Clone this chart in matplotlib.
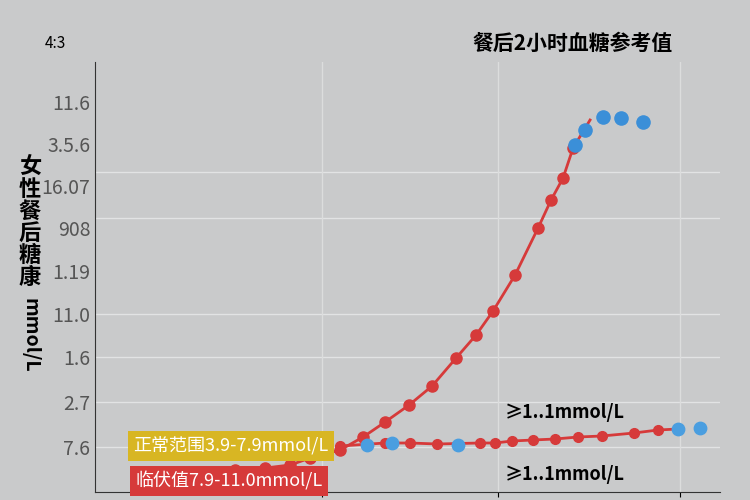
import matplotlib.pyplot as plt

plt.rcParams['font.family'] = ['Noto Sans CJK SC', 'DejaVu Sans']

# values (x index, y level)
rise_x = [45, 85, 140, 170, 195, 215, 245, 268, 290, 314, 337, 361, 381, 398, 420, 443, 456, 468, 478]
rise_y = [0, 12, 22, 24, 27, 34, 42, 55, 70, 87, 106, 134, 157, 181, 217, 264, 292, 314, 344]
rise_blue_x = [480, 490, 508, 526, 548]
rise_blue_y = [347, 362, 375, 374, 370]
flat_x = [245, 290, 315, 342, 385, 400, 417, 438, 460, 483, 507, 539, 563, 583]
flat_y = [46, 49, 49, 48, 49, 49, 51, 52, 53, 55, 56, 59, 62, 63]
flat_blue_x = [272, 297, 363, 583, 605]
flat_blue_y = [47, 49, 47, 63, 64]
tick_pos = [390, 348, 306, 264, 221, 178, 135, 90, 45]
tick_labels = ['11.6', '3.5.6', '16.07', '908', '1.19', '11.0', '1.6', '2.7', '7.6']

fig = plt.figure(figsize=(7.5, 5), dpi=100)
fig.patch.set_facecolor('#c9cacb')
ax = fig.add_axes([0.127, 0.016, 0.833, 0.86])
ax.set_facecolor('#c9cacb')
ax.set_xlim(0, 625)
ax.set_ylim(0, 430)
for s in ['top', 'right']:
    ax.spines[s].set_visible(False)
ax.spines['left'].set_color('#333333')
ax.spines['bottom'].set_color('#333333')
ax.set_yticks(tick_pos, tick_labels, fontsize=14, color='#555555')
ax.set_xticks([227, 403, 585], [])
ax.tick_params(axis='y', length=0)
for g in [320, 274, 178, 135, 90, 45]:
    ax.axhline(g, color='#e2e3e4', lw=1, zorder=0)
for g in [227, 403, 585]:
    ax.axvline(g, color='#dcdddd', lw=1, zorder=0)

ax.plot(rise_x + [495], rise_y + [372], color='#d63a3a', lw=2, marker='o', ms=8,
        markevery=list(range(len(rise_x))), zorder=3)
ax.scatter(rise_blue_x, rise_blue_y, color='#3b8fd8', s=90, zorder=4)
ax.plot(flat_x, flat_y, color='#d63a3a', lw=2, marker='o', ms=7, zorder=3)
ax.scatter(flat_blue_x, flat_blue_y, color='#4a9ee0', s=80, zorder=4)

ax.text(38, 46, '正常范围3.9-7.9mmol/L', fontsize=13, color='white', va='center',
        bbox=dict(boxstyle='square,pad=0.3', fc='#d8b623', ec='none'), zorder=5)
ax.text(40, 11, '临伏值7.9-11.0mmol/L', fontsize=13, color='white', va='center',
        bbox=dict(boxstyle='square,pad=0.3', fc='#d63a3a', ec='none'), zorder=5)
ax.text(410, 80, '≥1..1mmol/L', fontsize=13, fontweight='bold', va='center')
ax.text(410, 17, '≥1..1mmol/L', fontsize=13, fontweight='bold', va='center')

fig.text(0.06, 0.905, '4:3', fontsize=11, style='italic')
fig.text(0.63, 0.9, '餐后2小时血糖参考值', fontsize=15, fontweight='bold')
fig.text(0.04, 0.555, '女\n性\n餐\n后\n糖\n康', fontsize=16, fontweight='bold',
         ha='center', va='center', linespacing=0.95)
fig.text(0.04, 0.33, 'mmol/L', fontsize=14, fontweight='bold', rotation=-90,
         ha='center', va='center')

fig.savefig('out.png')
